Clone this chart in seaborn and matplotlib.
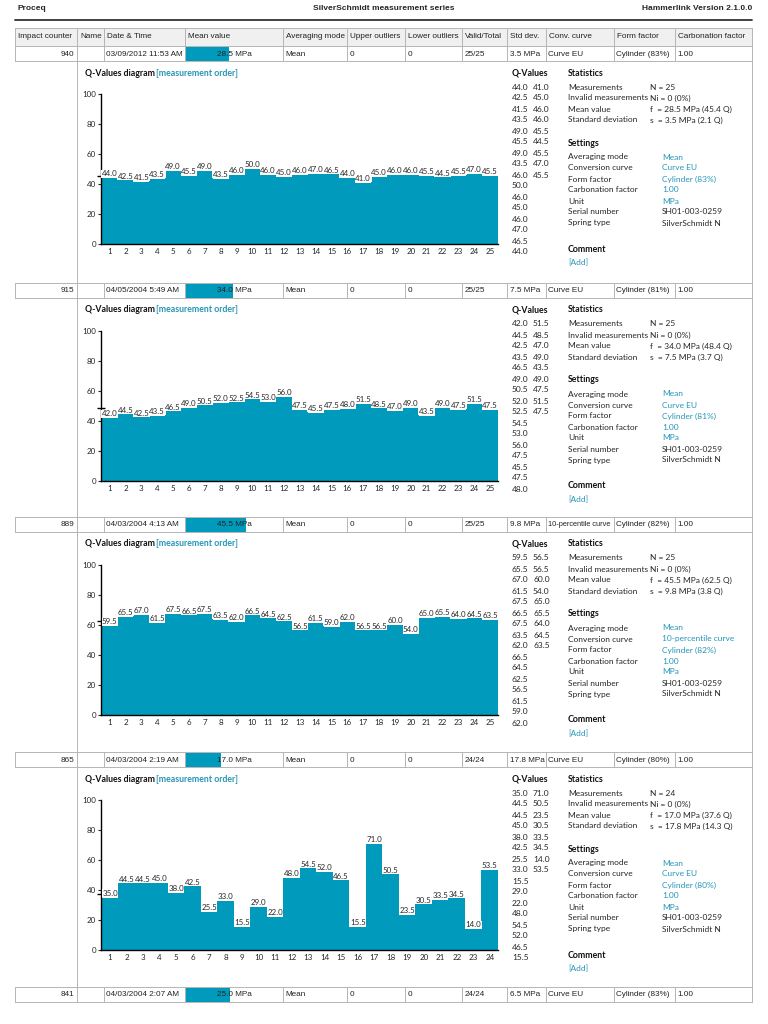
import matplotlib
matplotlib.use('Agg')
import matplotlib.pyplot as plt
import seaborn as sns
import numpy as np
from matplotlib.lines import Line2D
from matplotlib.patches import Rectangle

# %% data
impact_counter = [940, 915, 889, 865, 841]
date_time = ['03/09/2012 11:53 AM', '04/05/2004 5:49 AM', '04/03/2004 4:13 AM',
             '04/03/2004 2:19 AM', '04/03/2004 2:07 AM']
mean_mpa = [28.5, 34.0, 45.5, 17.0, 25.0]
mean_fill = [0.45, 0.49, 0.62, 0.37, 0.46]
avg_mode = ['Mean', 'Mean', 'Mean', 'Mean', 'Mean']
upper_out = [0, 0, 0, 0, 0]
lower_out = [0, 0, 0, 0, 0]
valid_total = ['25/25', '25/25', '25/25', '24/24', '24/24']
std_mpa = [3.5, 7.5, 9.8, 17.8, 6.5]
conv_curve = ['Curve EU', 'Curve EU', '10-percentile curve', 'Curve EU', 'Curve EU']
form_factor = ['Cylinder (83%)', 'Cylinder (81%)', 'Cylinder (82%)', 'Cylinder (80%)', 'Cylinder (83%)']
carb_factor = ['1.00', '1.00', '1.00', '1.00', '1.00']

q_940 = [44.0, 42.5, 41.5, 43.5, 49.0, 45.5, 49.0, 43.5, 46.0, 50.0, 46.0, 45.0, 46.0,
         47.0, 46.5, 44.0, 41.0, 45.0, 46.0, 46.0, 45.5, 44.5, 45.5, 47.0, 45.5]
q_915 = [42.0, 44.5, 42.5, 43.5, 46.5, 49.0, 50.5, 52.0, 52.5, 54.5, 53.0, 56.0, 47.5,
         45.5, 47.5, 48.0, 51.5, 48.5, 47.0, 49.0, 43.5, 49.0, 47.5, 51.5, 47.5]
q_889 = [59.5, 65.5, 67.0, 61.5, 67.5, 66.5, 67.5, 63.5, 62.0, 66.5, 64.5, 62.5, 56.5,
         61.5, 59.0, 62.0, 56.5, 56.5, 60.0, 54.0, 65.0, 65.5, 64.0, 64.5, 63.5]
q_865 = [35.0, 44.5, 44.5, 45.0, 38.0, 42.5, 25.5, 33.0, 15.5, 29.0, 22.0, 48.0, 54.5,
         52.0, 46.5, 15.5, 71.0, 50.5, 23.5, 30.5, 33.5, 34.5, 14.0, 53.5]
q_series = [q_940, q_915, q_889, q_865]
mean_q = [45.4, 48.4, 62.5, 37.6]
std_q = [2.1, 3.7, 3.8, 14.3]

header_labels = ['Impact counter', 'Name', 'Date & Time', 'Mean value', 'Averaging mode',
                 'Upper outliers', 'Lower outliers', 'Valid/Total', 'Std dev.', 'Conv. curve',
                 'Form factor', 'Carbonation factor']

# %% style
sns.set_style('white')
plt.rcParams['font.family'] = ['Lato', 'DejaVu Sans']
narrow = ['Liberation Sans Narrow', 'Liberation Sans', 'DejaVu Sans']
teal = '#009ABD'
teal_txt = '#2596B8'
grid_col = '#b5b5b5'
dark = '#262626'

W, H = 768, 1024
fig = plt.figure(figsize=(W / 100, H / 100), dpi=100)
fig.patch.set_facecolor('white')


def fx(x):
    return x / W


def fy(y):
    return 1 - y / H


def txt(x, y, s, **kw):
    kw.setdefault('va', 'center')
    fig.text(fx(x), fy(y), s, **kw)


def line(x0, y0, x1, y1, **kw):
    kw.setdefault('color', grid_col)
    kw.setdefault('lw', 0.7)
    fig.add_artist(Line2D([fx(x0), fx(x1)], [fy(y0), fy(y1)], **kw))


def box(x0, y0, x1, y1, **kw):
    fig.add_artist(Rectangle((fx(x0), fy(y1)), fx(x1) - fx(x0), (y1 - y0) / H, **kw))


# page header
txt(17, 9, 'Proceq', fontsize=6, fontweight='bold', family=narrow)
txt(384, 9, 'SilverSchmidt measurement series', fontsize=6, fontweight='bold', family=narrow, ha='center')
txt(752, 9, 'Hammerlink Version 2.1.0.0', fontsize=6, fontweight='bold', family=narrow, ha='right')
line(15, 20, 752, 20, color='#333333', lw=1.3)

col_edges = [15, 77, 104, 185, 283, 347, 405, 462, 507, 546, 614, 675, 752]
tfs = 5.9

# table header
box(15, 28, 752, 46, facecolor='#f0f0f0', edgecolor='none')
for y in (28, 46):
    line(15, y, 752, y)
for x in col_edges:
    line(x, 28, x, 46)
for lab, x in zip(header_labels, col_edges[:-1]):
    txt(x + 3, 37, lab, fontsize=tfs, family=narrow, color='#222222')

row_tops = [46, 283, 517, 752, 987]
row_h = 15

for i, top in enumerate(row_tops):
    yc = top + row_h / 2 + 0.5
    box(185, top + 1, 185 + 98 * mean_fill[i], top + row_h, facecolor=teal, edgecolor='none')
    line(15, top + row_h, 752, top + row_h)
    if i > 0:
        line(15, top, 752, top)
    for x in col_edges:
        line(x, top, x, top + row_h)
    cells = [date_time[i], None, avg_mode[i], str(upper_out[i]), str(lower_out[i]),
             valid_total[i], f'{std_mpa[i]:.1f} MPa', conv_curve[i], form_factor[i], carb_factor[i]]
    txt(74, yc, str(impact_counter[i]), fontsize=tfs, family=narrow, ha='right', color='#222222')
    for c, x0 in zip(cells, col_edges[2:-1]):
        if c is not None:
            # the long curve name only just fits its cell
            fs = 5.3 if (x0 == 546 and len(c) > 16) else tfs
            txt(x0 + 2.5, yc, c, fontsize=fs, family=narrow, color='#222222')
    txt(234, yc, f'{mean_mpa[i]:.1f} MPa', fontsize=tfs, family=narrow, ha='center', color='#222222')

# detail panels
for b, vals in enumerate(q_series):
    top = row_tops[b] + row_h
    nxt = row_tops[b + 1]
    line(77, top, 77, nxt)
    line(752, top, 752, nxt)

    t = row_tops[b] + 27
    txt(85, t, 'Q-Values diagram ', fontsize=6.3, fontweight='bold', color='#111111')
    txt(156, t, '[measurement order]', fontsize=6.3, fontweight='bold', color=teal_txt)

    ax_top = row_tops[b] + 48
    ax_bot = row_tops[b] + 198
    ax = fig.add_axes([fx(101), fy(ax_bot), (498 - 101) / W, (ax_bot - ax_top) / H])
    n = len(vals)
    sns.barplot(x=list(range(1, n + 1)), y=vals, ax=ax, color=teal, width=1,
                saturation=1, edgecolor='none', linewidth=0)
    ax.set_xlim(-0.55, n - 0.5)
    ax.set_ylim(0, 100)
    ax.set_yticks([0, 20, 40, 60, 80, 100])
    ax.set_xlabel('')
    ax.set_ylabel('')
    ax.patch.set_alpha(0)
    for s in ('top', 'right'):
        ax.spines[s].set_visible(False)
    for s in ('left', 'bottom'):
        ax.spines[s].set_color('black')
        ax.spines[s].set_linewidth(1.0)
    ax.tick_params(axis='y', length=2.5, width=0.8, labelsize=5.8, pad=1, colors=dark, left=True)
    ax.tick_params(axis='x', length=0, labelsize=5.8, pad=3, colors=dark)
    ax.bar_label(ax.containers[0], fmt='%.1f', padding=0.5, fontsize=5.7, color=dark,
                 bbox=dict(boxstyle='square,pad=0.05', facecolor='white', edgecolor='none'))
    ax.plot([0], [mean_q[b]], marker='_', ms=6, mew=1.0, color='black',
            transform=ax.get_yaxis_transform(), clip_on=False)

    # q-value list
    txt(512, t, 'Q-Values', fontsize=6.3, fontweight='bold', color='#111111')
    for k, v in enumerate(vals):
        txt(512 + 21 * (k // 16), t + 14 + 11 * (k % 16), f'{v:.1f}', fontsize=6, color=dark)

    # statistics
    txt(568, t, 'Statistics', fontsize=6.3, fontweight='bold', color='#111111')
    stats = [('Measurements', f'N = {n}'),
             ('Invalid measurements', 'Ni = 0 (0%)'),
             ('Mean value', f'f  = {mean_mpa[b]:.1f} MPa ({mean_q[b]:.1f} Q)'),
             ('Standard deviation', f's  = {std_mpa[b]:.1f} MPa ({std_q[b]:.1f} Q)')]
    for k, (lab, val) in enumerate(stats):
        txt(568, t + 14 + 11 * k, lab, fontsize=6, color=dark)
        txt(650, t + 14 + 11 * k, val, fontsize=6, color=dark)

    txt(568, t + 70, 'Settings', fontsize=6.3, fontweight='bold', color='#111111')
    settings = [('Averaging mode', avg_mode[b], teal_txt),
                ('Conversion curve', conv_curve[b], teal_txt),
                ('Form factor', form_factor[b], teal_txt),
                ('Carbonation factor', carb_factor[b], teal_txt),
                ('Unit', 'MPa', teal_txt),
                ('Serial number', 'SH01-003-0259', dark),
                ('Spring type', 'SilverSchmidt N', dark)]
    for k, (lab, val, c) in enumerate(settings):
        txt(568, t + 84 + 11 * k, lab, fontsize=6, color=dark)
        txt(662, t + 84 + 11 * k, val, fontsize=6, color=c)

    txt(568, t + 176, 'Comment', fontsize=6.3, fontweight='bold', color='#111111')
    txt(568, t + 190, '[Add]', fontsize=6, color=teal_txt)

fig.savefig('out.png', dpi=100)
